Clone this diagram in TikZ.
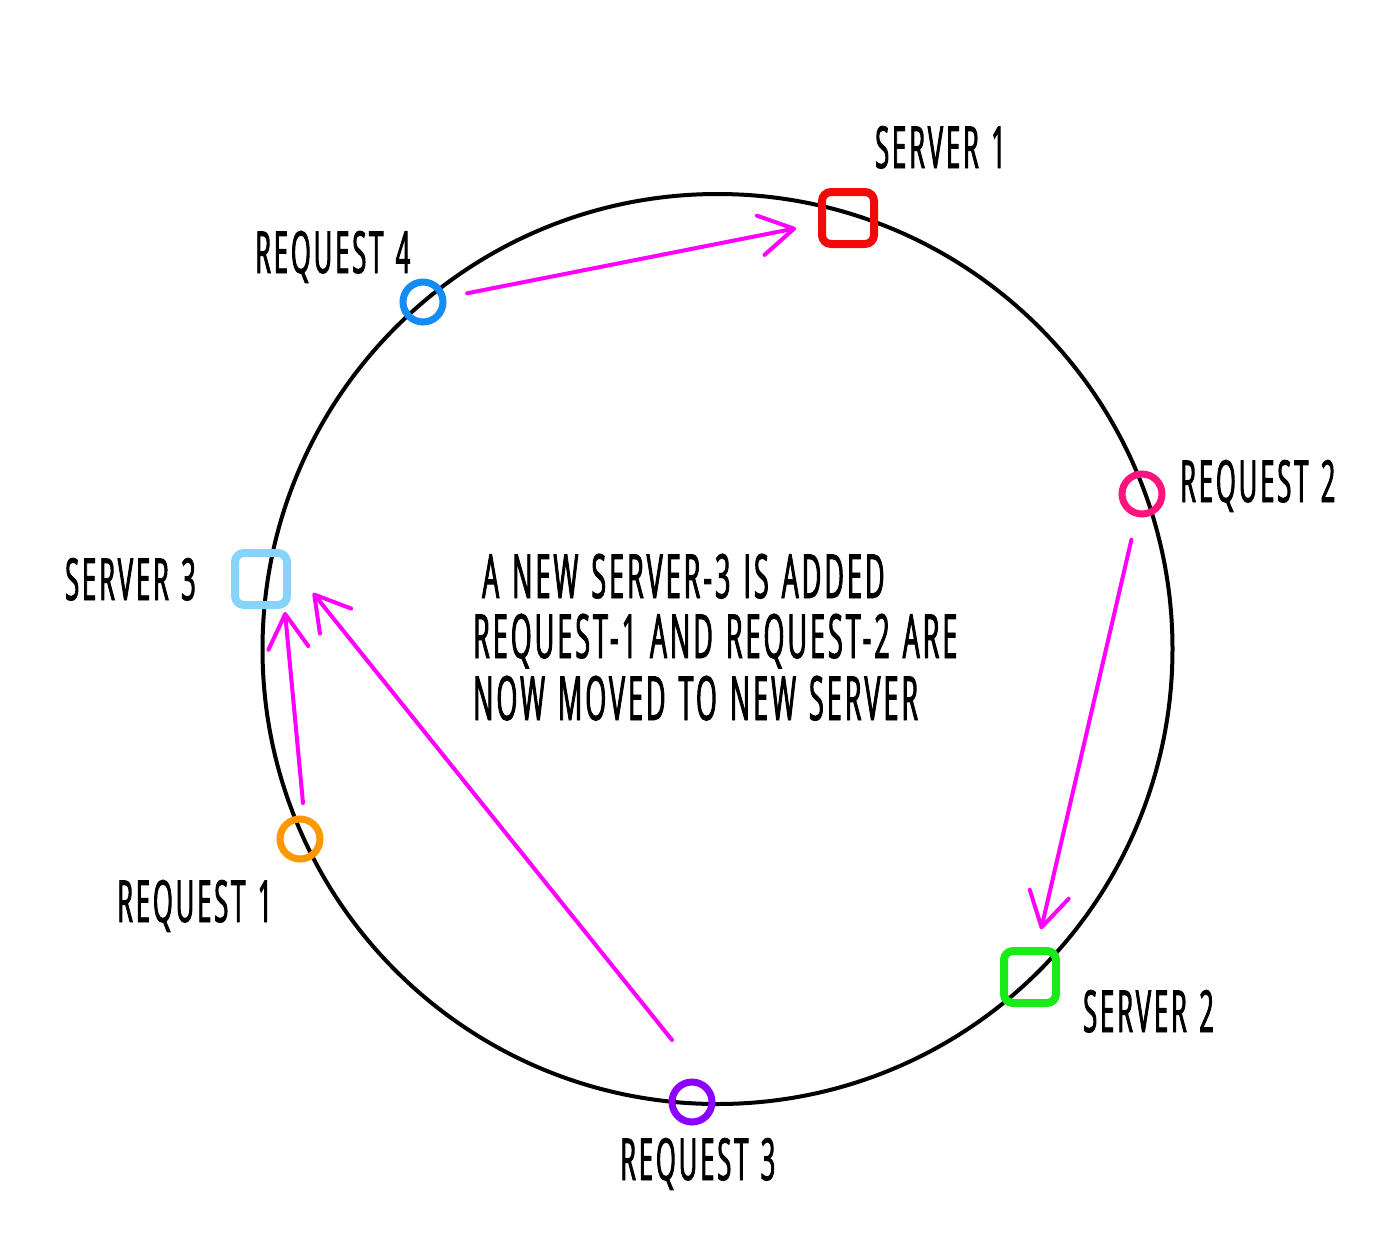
\documentclass[tikz,border=0pt]{standalone}
\usepackage{fontspec}
\setmainfont[FakeStretch=0.44,FakeBold=1.5,LetterSpace=5,WordSpace=1.3]{Open Sans}
\usetikzlibrary{arrows.meta}
\definecolor{arrowmag}{RGB}{255,0,255}
\definecolor{srvone}{RGB}{240,10,10}
\definecolor{srvtwo}{RGB}{25,235,25}
\definecolor{srvthree}{RGB}{135,212,250}
\definecolor{reqone}{RGB}{255,152,0}
\definecolor{reqtwo}{RGB}{255,20,125}
\definecolor{reqthree}{RGB}{140,0,255}
\definecolor{reqfour}{RGB}{20,140,245}
\begin{document}
\begin{tikzpicture}[x=1pt,y=-1pt,
  ringstyle/.style={draw,circle,line width=4pt,black,minimum size=910pt,inner sep=0pt},
  srv/.style={draw,rectangle,line width=8pt,rounded corners=9pt,minimum size=52pt,inner sep=0pt},
  req/.style={draw,circle,line width=7pt,minimum size=40pt,inner sep=0pt},
  lbl/.style={anchor=base west,inner sep=0pt,font=\fontsize{58}{62}\selectfont},
  mid/.style={anchor=base west,inner sep=0pt,font=\fontsize{61}{64}\selectfont},
  move/.style={arrowmag,line width=4pt,line cap=round,line join=round,
    -{Straight Barb[length=34pt,width=40pt,line cap=round,line join=round]}}
]
\useasboundingbox (0,0) rectangle (1400,1259);
\fill[white] (0,0) rectangle (1400,1259);

\node[ringstyle] (ring) at (717.5,649) {};

\node[srv,srvone]   (s1) at (848,218) {};
\node[srv,srvtwo]   (s2) at (1030,977) {};
\node[srv,srvthree] (s3) at (261,579) {};
\node[req,reqone]   (r1) at (300,839) {};
\node[req,reqtwo]   (r2) at (1142,494) {};
\node[req,reqthree] (r3) at (692,1102) {};
\node[req,reqfour]  (r4) at (423,302) {};

\node[lbl] (l1) at (875,168)  {SERVER 1};
\node[lbl] (l2) at (1083,1032) {SERVER 2};
\node[lbl] (l3) at (65,600)   {SERVER 3};
\node[lbl] (q1) at (117,922)  {REQUEST 1};
\node[lbl] (q2) at (1180,502) {REQUEST 2};
\node[lbl] (q3) at (620,1180) {REQUEST 3};
\node[lbl] (q4) at (255,273)  {REQUEST 4};

\node[mid] (c1) at (482,598) {A NEW SERVER-3 IS ADDED};
\node[mid] (c2) at (473,658) {REQUEST-1 AND REQUEST-2 ARE};
\node[mid] (c3) at (473,720) {NOW MOVED TO NEW SERVER};

\draw[move,shorten <=45pt,shorten >=53pt] (r4.center) -- (s1.center);
\draw[move,shorten <=47pt,shorten >=49pt] (r2.center) -- (s2.center);
\draw[move] ([shift={(3,-36)}]r1.center) -- ([shift={(24,33)}]s3.center);
\draw[move] ([shift={(-20,-62)}]r3.center) -- ([shift={(52,14)}]s3.center);
\end{tikzpicture}
\end{document}
